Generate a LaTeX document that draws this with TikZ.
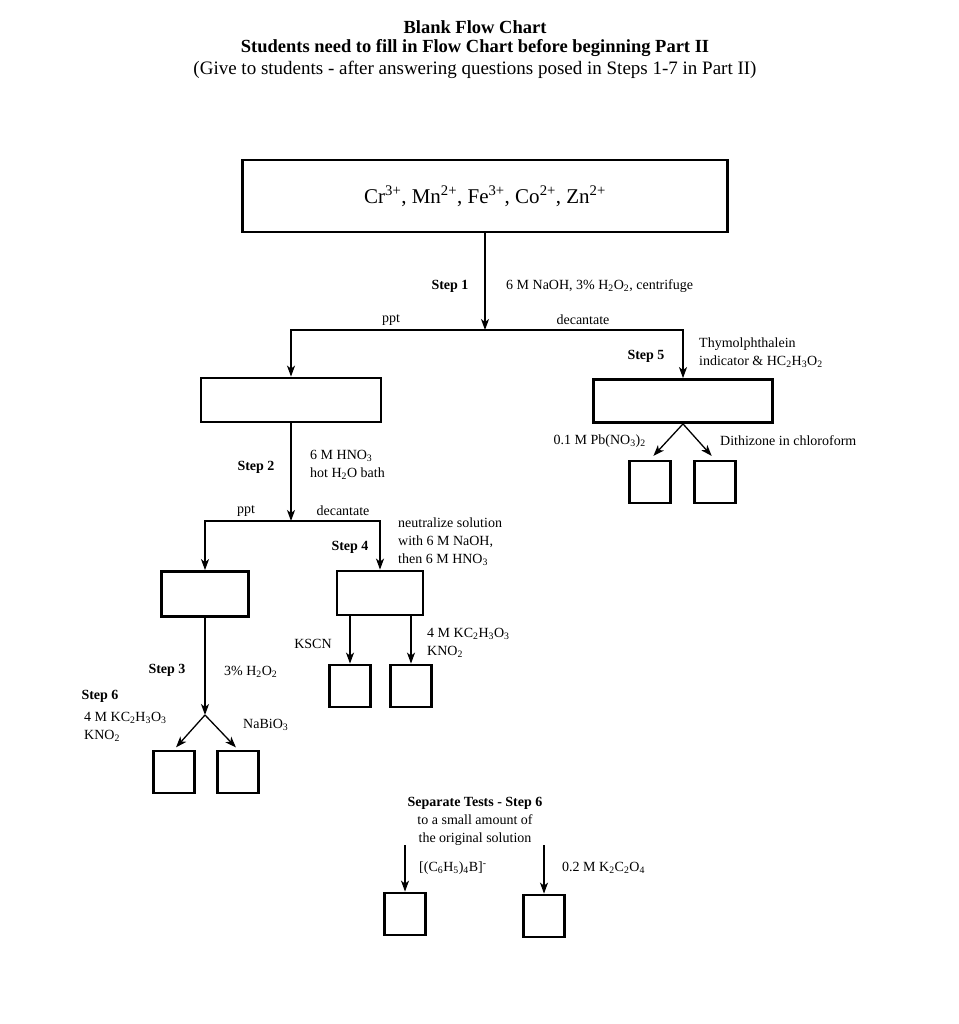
\documentclass[tikz,border=0pt]{standalone}
\usepackage{fontspec}
\setmainfont{Liberation Serif}
\usetikzlibrary{arrows.meta, positioning}

\begin{document}
\begin{tikzpicture}[
    x=1pt, y=-1pt,
    every node/.style={font=\fontsize{14}{18}\selectfont},
    box/.style={draw, line width=2.8pt, inner sep=0pt},
    tube/.style={box, minimum width=41pt, minimum height=42pt},
    steplbl/.style={font=\fontsize{14}{18}\selectfont\bfseries},
    lbl/.style={align=left, anchor=west, inner sep=0pt},
    titlelbl/.style={font=\fontsize{18.5}{20}\selectfont\bfseries},
    link/.style={->, line width=1.3pt},
    >={Stealth[length=11pt, width=8pt, inset=3pt]}
]
\useasboundingbox (0,0) rectangle (958,1024);

% Title
\node[titlelbl] (title1) at (475,27) {Blank Flow Chart};
\node[titlelbl] (title2) at (475,48) {Students need to fill in Flow Chart before beginning Part II};
\node[font=\fontsize{19}{20}\selectfont] (title3) at (475,70) {(Give to students - after answering questions posed in Steps 1-7 in Part II)};

% Boxes
\node[box, minimum width=485pt, minimum height=72pt, font=\fontsize{21}{24}\selectfont] (ions) at (485,196)
    {Cr\textsuperscript{3+}, Mn\textsuperscript{2+}, Fe\textsuperscript{3+}, Co\textsuperscript{2+}, Zn\textsuperscript{2+}};
\node[box, minimum width=180pt, minimum height=44pt] (ppt1) at (291,400) {};
\node[box, minimum width=179pt, minimum height=43pt] (dec1) at (683,401) {};
\node[tube] (pb) at (650,482) {};
\node[tube] (dith) at (715,482) {};
\node[box, minimum width=87pt, minimum height=45pt] (ppt2) at (205,594) {};
\node[box, minimum width=86pt, minimum height=44pt] (dec2) at (380,593) {};
\node[tube] (kscn) at (350,686) {};
\node[tube] (kno1) at (411,686) {};
\node[tube] (kno2) at (174,772) {};
\node[tube] (bio) at (238,772) {};
\node[tube] (tpb) at (405,914) {};
\node[tube] (oxal) at (544,916) {};

% Junctions
\coordinate (j1) at (485,330);
\coordinate (j2) at (291,521);
\coordinate (j3) at (205,715);
\coordinate (s1) at (405,845);
\coordinate (s2) at (544,845);

% Arrows
\draw[link] (ions) -- (j1);
\draw[link] (j1) -| (ppt1);
\draw[link] (j1) -| (dec1);
\draw[link, shorten >=5pt] (dec1.south) -- (pb.north);
\draw[link, shorten >=5pt] (dec1.south) -- (dith.north);
\draw[link] (ppt1) -- (j2);
\draw[link] (j2) -| (ppt2);
\draw[link] (j2) -| (dec2);
\draw[link] (dec2.south -| kscn) -- (kscn);
\draw[link] (dec2.south -| kno1) -- (kno1);
\draw[link] (ppt2) -- (j3);
\draw[link, shorten >=3pt] (j3) -- (kno2.north);
\draw[link, shorten >=3pt] (j3) -- (bio.north);
\draw[link] (s1) -- (tpb);
\draw[link] (s2) -- (oxal);

% Labels
\node[steplbl] (st1) at (450,286) {Step 1};
\node[lbl] (r1) at (506,286) {6 M NaOH, 3\% H\textsubscript{2}O\textsubscript{2}, centrifuge};
\node (p1) at (391,320) {ppt};
\node (d1) at (583,320) {decantate};
\node[steplbl] (st5) at (646,356) {Step 5};
\node[lbl] (r5) at (699,353) {Thymolphthalein\\indicator \& HC\textsubscript{2}H\textsubscript{3}O\textsubscript{2}};
\node[lbl, anchor=east] (r5a) at (646,441) {0.1 M Pb(NO\textsubscript{3})\textsubscript{2}};
\node[lbl] (r5b) at (720,441) {Dithizone in chloroform};
\node[steplbl] (st2) at (256,467) {Step 2};
\node[lbl] (r2) at (310,465) {6 M HNO\textsubscript{3}\\hot H\textsubscript{2}O bath};
\node (p2) at (246,511) {ppt};
\node (d2) at (343,511) {decantate};
\node[steplbl] (st4) at (350,547) {Step 4};
\node[lbl] (r4) at (398,542) {neutralize solution\\with 6 M NaOH,\\then 6 M HNO\textsubscript{3}};
\node (r4a) at (313,644) {KSCN};
\node[lbl] (r4b) at (427,643) {4 M KC\textsubscript{2}H\textsubscript{3}O\textsubscript{3}\\KNO\textsubscript{2}};
\node[steplbl] (st3) at (167,670) {Step 3};
\node[lbl] (r3) at (224,672) {3\% H\textsubscript{2}O\textsubscript{2}};
\node[steplbl] (st6) at (100,696) {Step 6};
\node[lbl] (r6a) at (84,727) {4 M KC\textsubscript{2}H\textsubscript{3}O\textsubscript{3}\\KNO\textsubscript{2}};
\node[lbl] (r6b) at (243,725) {NaBiO\textsubscript{3}};
\node[align=center] (sep) at (475,821) {\textbf{Separate Tests - Step 6}\\to a small amount of\\the original solution};
\node[lbl] (r7a) at (419,868) {[(C\textsubscript{6}H\textsubscript{5})\textsubscript{4}B]\textsuperscript{-}};
\node[lbl] (r7b) at (562,868) {0.2 M K\textsubscript{2}C\textsubscript{2}O\textsubscript{4}};

\end{tikzpicture}
\end{document}
